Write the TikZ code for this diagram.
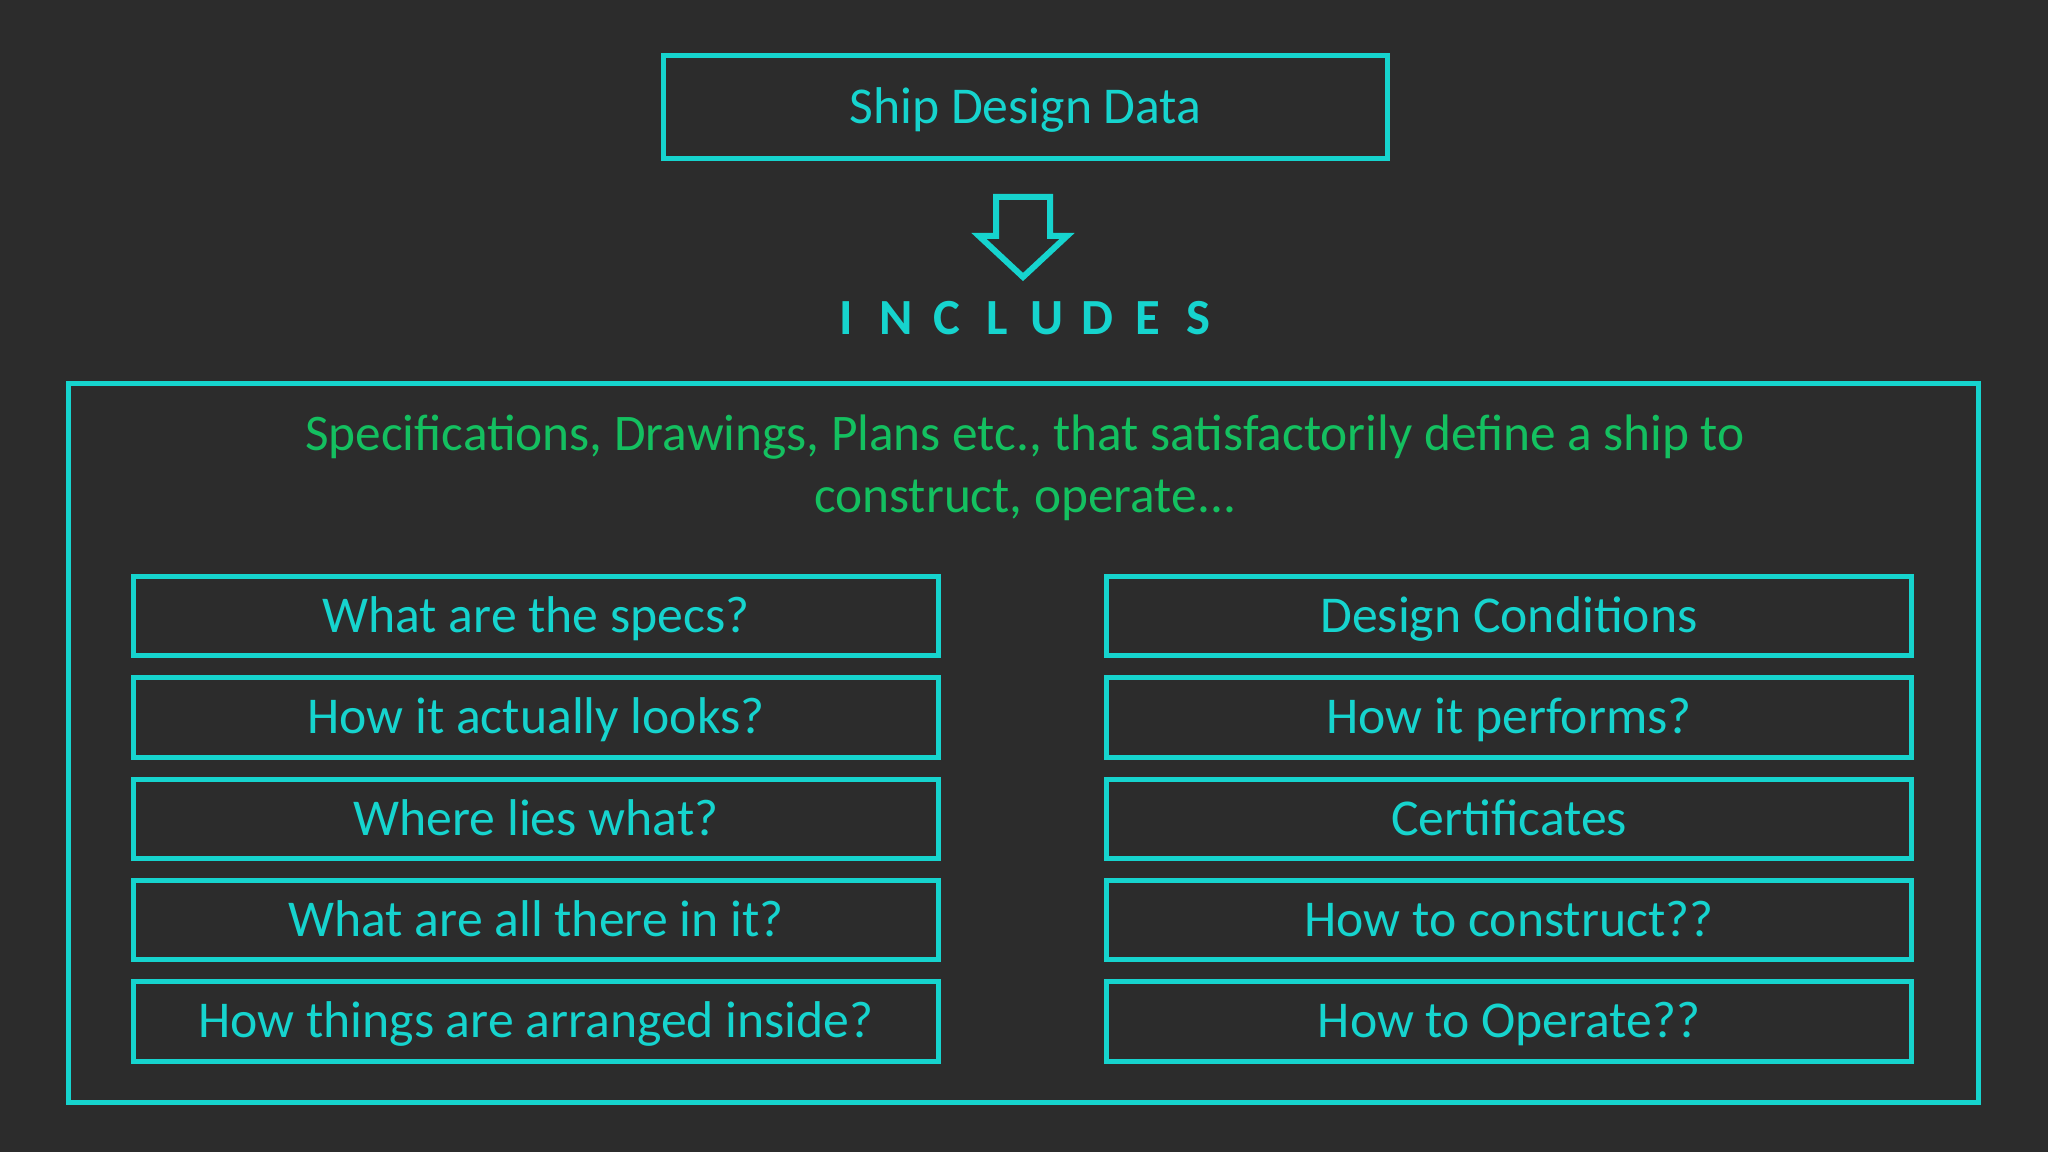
\documentclass[tikz,border=0pt]{standalone}
\usepackage{fontspec}
\setmainfont{Carlito}
\definecolor{bgc}{RGB}{44,44,44}
\definecolor{cyanc}{RGB}{22,212,206}
\definecolor{greenc}{RGB}{20,192,96}
\newcommand{\lsp}[1]{\makebox[14.3pt]{#1}}
\begin{document}
\begin{tikzpicture}[x=0.01cm,y=-0.01cm,
  frame/.style={draw=cyanc, line width=0.05cm},
  qbox/.style={frame, minimum width=8.05cm, minimum height=0.79cm, inner sep=0pt,
    text=cyanc, font=\fontsize{14.7}{17}\selectfont, text height=9.3pt, text depth=0pt},
  txt/.style={inner sep=0pt, anchor=base}]
\fill[bgc] (0,0) rectangle (2048,1152);
\useasboundingbox (0,0) rectangle (2048,1152);
% title box
\node[frame, minimum width=7.24cm, minimum height=1.03cm, inner sep=0pt, text=cyanc,
  font=\fontsize{14.7}{17}\selectfont, text height=9.3pt, text depth=0pt] (top) at (1025.5,107) {Ship Design Data};
% block arrow
\draw[cyanc, line width=0.06cm, line join=miter] (996,197) -- (1050,197) -- (1050,236) -- (1067,236) -- (1023,277) -- (979,236) -- (996,236) -- cycle;
% INCLUDES
\node[txt, text=cyanc, font=\bfseries\fontsize{14.4}{17}\selectfont] (inc) at (1022,335)
  {\lsp{I}\lsp{N}\lsp{C}\lsp{L}\lsp{U}\lsp{D}\lsp{E}\lsp{S}};
% outer frame
\node[frame, minimum width=19.08cm, minimum height=7.19cm, inner sep=0pt] (outer) at (1023.5,743) {};
% description
\node[txt, text=greenc, font=\fontsize{14.6}{17}\selectfont] (d1) at (1025,451)
  {Specifications, Drawings, Plans etc., that satisfactorily define a ship to};
\node[txt, text=greenc, font=\fontsize{14.6}{17}\selectfont] (d2) at (1025,512)
  {construct, operate...};
% left column
\node[qbox] (l1) at (536,616) {What are the specs?};
\node[qbox] (l2) at (536,717.5) {How it actually looks?};
\node[qbox] (l3) at (536,819) {Where lies what?};
\node[qbox] (l4) at (536,920) {What are all there in it?};
\node[qbox] (l5) at (536,1021.5) {How things are arranged inside?};
% right column
\node[qbox] (r1) at (1509,616) {Design Conditions};
\node[qbox] (r2) at (1509,717.5) {How it performs?};
\node[qbox] (r3) at (1509,819) {Certificates};
\node[qbox] (r4) at (1509,920) {How to construct??};
\node[qbox] (r5) at (1509,1021.5) {How to Operate??};
\end{tikzpicture}
\end{document}
